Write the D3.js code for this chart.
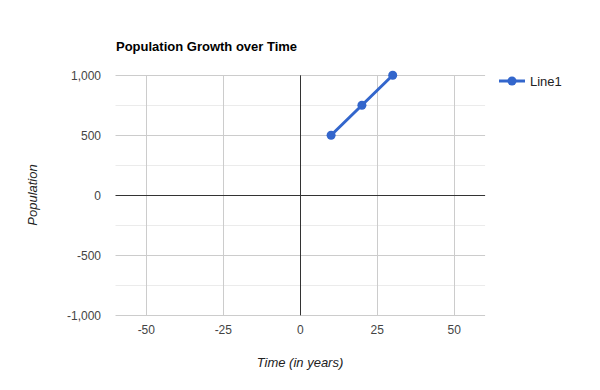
<!DOCTYPE html>
<html>
<head>
<meta charset="utf-8">
<script src="https://cdn.jsdelivr.net/npm/d3@7"></script>
<style>
  body { margin: 0; background: #fff; }
  text { font-family: Arial, "Liberation Sans", sans-serif; }
</style>
</head>
<body>
<svg id="chart" width="600" height="390"></svg>
<script>
// data
var years = [10, 20, 30];
var population = [500, 750, 1000];
var xTicks = [-50, -25, 0, 25, 50];
var yTicks = [-1000, -500, 0, 500, 1000];
var yMinor = [-750, -250, 250, 750];
var seriesName = "Line1";

var svg = d3.select("#chart");
var areaL = 115.5, areaR = 485.1, areaT = 75.3, areaB = 315.3;

var x = d3.scaleLinear().domain([-60, 60]).range([areaL, areaR]);
var y = d3.scaleLinear().domain([-1000, 1000]).range([areaB, areaT]);

var grid = svg.append("g");
grid.selectAll(".ymin").data(yMinor).enter().append("line")
  .attr("x1", areaL).attr("x2", areaR)
  .attr("y1", function(d) { return Math.round(y(d)) + 0.5; })
  .attr("y2", function(d) { return Math.round(y(d)) + 0.5; })
  .attr("stroke", "#ebebeb");
grid.selectAll(".ymaj").data(yTicks.filter(function(d) { return d != 0; })).enter().append("line")
  .attr("x1", areaL).attr("x2", areaR)
  .attr("y1", function(d) { return Math.round(y(d)) + 0.5; })
  .attr("y2", function(d) { return Math.round(y(d)) + 0.5; })
  .attr("stroke", "#cccccc");
grid.selectAll(".xmaj").data(xTicks.filter(function(d) { return d != 0; })).enter().append("line")
  .attr("y1", areaT).attr("y2", areaB)
  .attr("x1", function(d) { return Math.round(x(d)) + 0.5; })
  .attr("x2", function(d) { return Math.round(x(d)) + 0.5; })
  .attr("stroke", "#cccccc");

// zero baselines
svg.append("line")
  .attr("x1", areaL).attr("x2", areaR)
  .attr("y1", Math.round(y(0)) + 0.5).attr("y2", Math.round(y(0)) + 0.5)
  .attr("stroke", "#333333");
svg.append("line")
  .attr("y1", areaT).attr("y2", areaB)
  .attr("x1", Math.round(x(0)) + 0.5).attr("x2", Math.round(x(0)) + 0.5)
  .attr("stroke", "#333333");

// tick labels (plain hyphen for negatives)
var fmt = function(d) { return d3.format(",")(d).replace("\u2212", "-"); };
svg.selectAll(".yl").data(yTicks).enter().append("text")
  .attr("x", 101).attr("y", function(d) { return y(d) + 4.5; })
  .attr("text-anchor", "end").attr("font-size", 12).attr("fill", "#444")
  .text(function(d) { return fmt(d); });
svg.selectAll(".xl").data(xTicks).enter().append("text")
  .attr("x", function(d) { return x(d); }).attr("y", 334)
  .attr("text-anchor", "middle").attr("font-size", 12).attr("fill", "#444")
  .text(function(d) { return d; });

// series
var pts = years.map(function(d, i) { return [d, population[i]]; });
svg.append("path")
  .attr("d", d3.line().x(function(d) { return x(d[0]); }).y(function(d) { return y(d[1]); })(pts))
  .attr("fill", "none").attr("stroke", "#3366cc").attr("stroke-width", 3);
svg.selectAll(".pt").data(pts).enter().append("circle")
  .attr("cx", function(d) { return x(d[0]); })
  .attr("cy", function(d) { return y(d[1]); })
  .attr("r", 4.5).attr("fill", "#3366cc");

// title & axis titles
svg.append("text").attr("x", 116).attr("y", 51)
  .attr("font-size", 13).attr("font-weight", "bold").attr("fill", "#000")
  .text("Population Growth over Time");
svg.append("text").attr("x", 300).attr("y", 367)
  .attr("text-anchor", "middle").attr("font-size", 13).attr("font-style", "italic").attr("fill", "#222")
  .text("Time (in years)");
svg.append("text").attr("transform", "translate(37,195) rotate(-90)")
  .attr("text-anchor", "middle").attr("font-size", 13).attr("font-style", "italic").attr("fill", "#222")
  .text("Population");

// legend
var lg = svg.append("g").attr("transform", "translate(499,81)");
lg.append("line").attr("x1", 0).attr("x2", 26).attr("y1", 0).attr("y2", 0)
  .attr("stroke", "#3366cc").attr("stroke-width", 3);
lg.append("circle").attr("cx", 13).attr("cy", 0).attr("r", 4.5).attr("fill", "#3366cc");
lg.append("text").attr("x", 31).attr("y", 4.5).attr("font-size", 13).attr("fill", "#222")
  .text(seriesName);
</script>
</body>
</html>
